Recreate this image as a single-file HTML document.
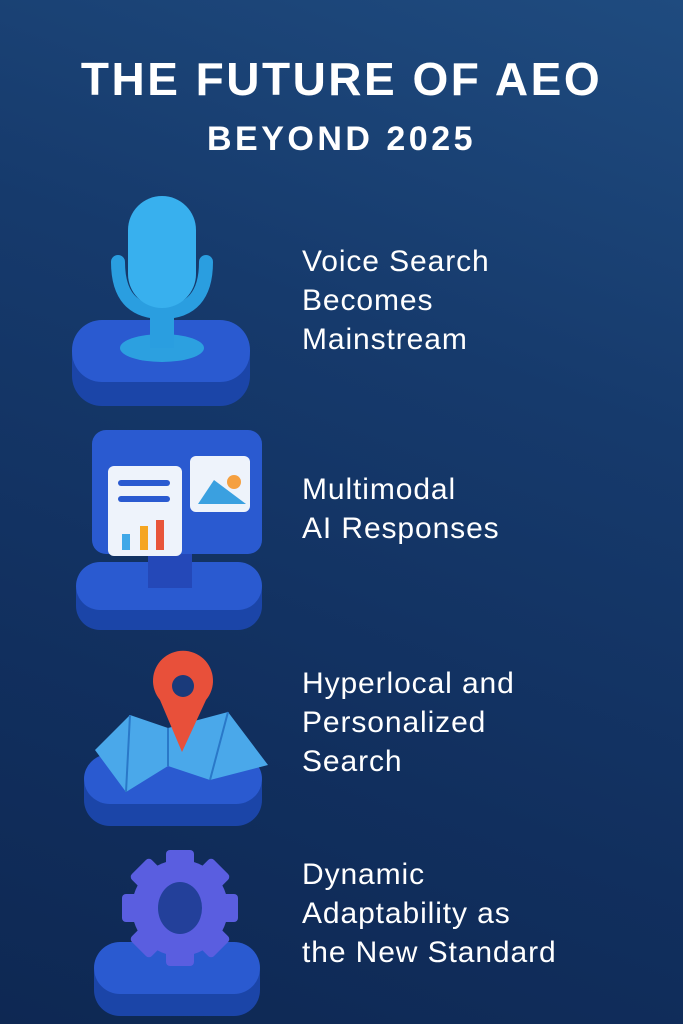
<!DOCTYPE html>
<html><head><meta charset="utf-8"><style>
html,body{margin:0;padding:0}
body{width:683px;height:1024px;overflow:hidden;position:relative;background:linear-gradient(200deg,#1f4b7f 0%,#163a6c 35%,#112f5e 70%,#0e2853 100%);font-family:"Liberation Sans",sans-serif;color:#fff}
.t1{position:absolute;left:0;width:683px;text-align:center;top:52px;font-size:46px;font-weight:bold;letter-spacing:2.5px}
.t2{position:absolute;left:0;width:683px;text-align:center;top:120px;font-size:34px;font-weight:bold;letter-spacing:3.5px}
.it{position:absolute;left:302px;font-size:30px;line-height:39px;letter-spacing:0.9px;white-space:nowrap}
svg{position:absolute;left:0;top:0}
</style></head><body>
<div class="t1">THE FUTURE OF AEO</div>
<div class="t2">BEYOND 2025</div>
<div class="it" style="top:242px">Voice Search<br>Becomes<br>Mainstream</div>
<div class="it" style="top:470px">Multimodal<br>AI Responses</div>
<div class="it" style="top:664px">Hyperlocal and<br>Personalized<br>Search</div>
<div class="it" style="top:855px">Dynamic<br>Adaptability as<br>the New Standard</div>
<svg width="683" height="1024">
<rect x="72" y="328" width="178" height="78" rx="30" fill="#1b45a8"/>
<rect x="72" y="320" width="178" height="62" rx="30" fill="#2a5ad0"/>
<ellipse cx="162" cy="348" rx="42" ry="14" fill="#2ca0e0"/>
<rect x="150" y="300" width="24" height="48" fill="#2a9ee0"/>
<path d="M118 262 Q118 312 162 312 Q206 312 206 262" fill="none" stroke="#2a9ee0" stroke-width="14" stroke-linecap="round"/>
<rect x="128" y="196" width="68" height="112" rx="34" fill="#38b0ee"/>
<rect x="76" y="568" width="186" height="62" rx="24" fill="#1b45a8"/>
<rect x="76" y="562" width="186" height="48" rx="24" fill="#2a5ad0"/>
<rect x="148" y="548" width="44" height="40" fill="#2448b8"/>
<rect x="92" y="430" width="170" height="124" rx="14" fill="#2a5ad0"/>
<rect x="108" y="466" width="74" height="90" rx="6" fill="#eef3fb"/>
<rect x="190" y="456" width="60" height="56" rx="6" fill="#eef3fb"/>
<rect x="118" y="480" width="52" height="6" rx="3" fill="#2a5ad0"/>
<rect x="118" y="496" width="52" height="6" rx="3" fill="#2a5ad0"/>
<rect x="122" y="534" width="8" height="16" fill="#40a8e8"/>
<rect x="140" y="526" width="8" height="24" fill="#f5a623"/>
<rect x="156" y="520" width="8" height="30" fill="#e8553a"/>
<path d="M198 504 L214 480 L246 504 Z" fill="#3aa0e0"/>
<circle cx="234" cy="482" r="7" fill="#f5a040"/>
<rect x="84" y="760" width="178" height="66" rx="26" fill="#1b45a8"/>
<rect x="84" y="754" width="178" height="50" rx="26" fill="#2a5ad0"/>
<path d="M95 750 L130 715 L168 728 L228 712 L268 765 L210 780 L168 766 L126 792 Z" fill="#4aa8ea"/>
<path d="M130 715 L126 792 M168 728 L168 766 M228 712 L210 780" stroke="#2a78c8" stroke-width="2"/>
<path d="M182 752 L160 700 A30 30 0 1 1 206 700 Z" fill="#e8503a"/>
<circle cx="183" cy="686" r="11" fill="#1a3a7a"/>
<rect x="94" y="948" width="166" height="68" rx="26" fill="#1b45a8"/>
<rect x="94" y="942" width="166" height="52" rx="26" fill="#2a5ad0"/>
<g transform="translate(180,908)">
<g fill="#5a5ee0">
<rect x="-14" y="-58" width="28" height="116" rx="4"/>
<rect x="-14" y="-58" width="28" height="116" rx="4" transform="rotate(45)"/>
<rect x="-14" y="-58" width="28" height="116" rx="4" transform="rotate(90)"/>
<rect x="-14" y="-58" width="28" height="116" rx="4" transform="rotate(135)"/>
<circle r="48"/>
</g>
<ellipse rx="22" ry="26" fill="#23409a"/>
</g>
</svg>
</body></html>
